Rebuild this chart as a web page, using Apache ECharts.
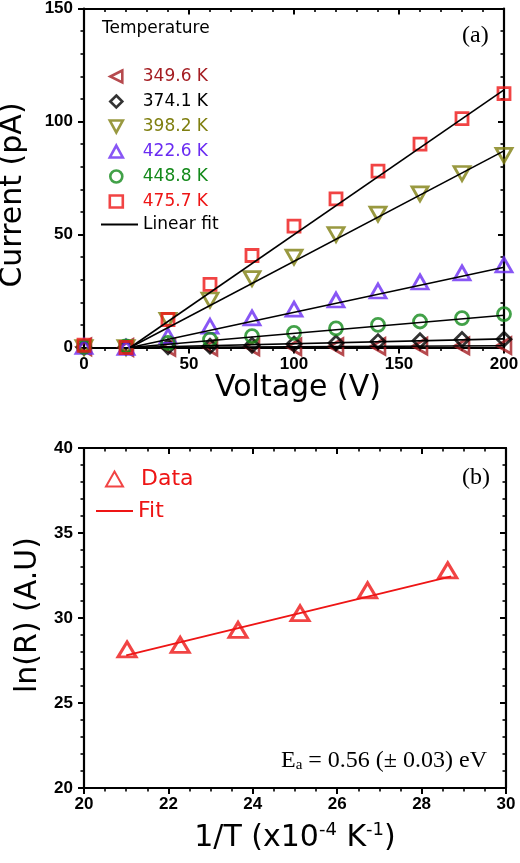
<!DOCTYPE html>
<html>
<head>
<meta charset="utf-8">
<script src="https://cdn.jsdelivr.net/npm/echarts@6.0.0/dist/echarts.min.js"></script>
<style>
html,body{margin:0;padding:0;background:#fff;}
#chart{width:520px;height:863px;}
</style>
</head>
<body>
<div id="chart"></div>
<script>
// ---------- Data: panel (a) ----------
const voltage = [0, 20, 40, 60, 80, 100, 120, 140, 160, 180, 200];
const temps = ['349.6 K', '374.1 K', '398.2 K', '422.6 K', '448.8 K', '475.7 K'];
const cur349 = [0.3, 0.0, 0.1, 0.2, 0.3, 0.3, 0.4, 0.5, 0.6, 0.7, 0.8];
const cur374 = [0.0, 0.1, 0.3, 0.6, 1.0, 1.5, 2.0, 2.6, 3.0, 3.5, 3.7];
const cur398 = [0.0, 0.0, 12.0, 21.0, 30.5, 40.0, 50.0, 59.0, 68.0, 77.0, 85.0];
const cur422 = [0.5, 0.0, 5.0, 9.4, 13.1, 17.0, 21.0, 25.0, 29.0, 33.0, 36.5];
const cur448 = [0.3, 0.5, 2.0, 3.5, 5.0, 6.5, 8.5, 10.0, 11.5, 13.0, 14.8];
const cur475 = [1.0, 0.0, 12.4, 27.9, 40.7, 53.7, 65.8, 78.0, 90.0, 101.3, 112.3];
// linear fits: start and end voltage, current at those voltages
const fitVoltage = [22, 200];
const fit349 = [0, 0.8];
const fit374 = [0, 3.8];
const fit398 = [0, 87.0];
const fit422 = [0, 35.5];
const fit448 = [0, 14.3];
const fit475 = [0, 114.0];

// ---------- Data: panel (b) ----------
const invT = [21.02, 22.28, 23.65, 25.12, 26.72, 28.62];
const lnR = [28.15, 28.42, 29.30, 30.28, 31.63, 32.80];
const fitInvT = [21.0, 28.7];
const fitLnR = [27.8, 32.45];

// ---------- Styles ----------
const colors = ['#a41d22', '#000000', '#7f7f10', '#6a2cf2', '#13891a', '#ee1515'];
const symbols = ['triangle', 'diamond', 'triangle', 'triangle', 'circle', 'rect'];
const rotates = [90, 0, 180, 0, 0, 0];
const legendIcons = ['path://M12,0 L0,6 L12,12 Z', 'path://M6,0 L12,6 L6,12 L0,6 Z', 'path://M0,0 L12,0 L6,11 Z',
  'path://M6,0 L12,11 L0,11 Z', 'circle', 'rect'];
const sizes = [[16, 14], [14, 14], [16, 14], [16, 14], [13, 13], [12, 12]];
const curData = [cur349, cur374, cur398, cur422, cur448, cur475];
const fitData = [fit349, fit374, fit398, fit422, fit448, fit475];

const zip = (xs, ys) => xs.map((x, i) => [x, ys[i]]);

const labelFont = {fontFamily: 'Liberation Sans, Arial, sans-serif', fontWeight: 'bold', fontSize: 17, color: '#000'};
const nameFont = {fontFamily: 'DejaVu Sans, sans-serif', fontSize: 30, color: '#000'};
const serif = 'Liberation Serif, Times New Roman, serif';

function minor(n) {
  return {show: true, splitNumber: n, length: 3.5, lineStyle: {color: '#000', width: 1.6}};
}
function mainAxis(grid, opts) {
  return Object.assign({
    gridIndex: grid, type: 'value',
    axisLine: {show: true, onZero: false, lineStyle: {color: '#000', width: 2.2}},
    axisTick: {show: true, inside: false, length: 6, lineStyle: {color: '#000', width: 2}},
    axisLabel: Object.assign({show: true}, labelFont),
    splitLine: {show: false}, minorSplitLine: {show: false},
    nameLocation: 'middle', nameTextStyle: Object.assign({}, nameFont)
  }, opts);
}
function mirrorAxis(grid, opts) {
  return Object.assign({
    gridIndex: grid, type: 'value',
    axisLine: {show: true, onZero: false, lineStyle: {color: '#000', width: 2.2}},
    axisTick: {show: true, inside: true, length: 6, lineStyle: {color: '#000', width: 2}},
    axisLabel: {show: false},
    splitLine: {show: false}, minorSplitLine: {show: false}
  }, opts);
}

const series = [];
temps.forEach((t, i) => {
  series.push({
    name: t, type: 'scatter', xAxisIndex: 0, yAxisIndex: 0,
    data: zip(voltage, curData[i]),
    symbol: symbols[i], symbolSize: sizes[i], symbolRotate: rotates[i],
    itemStyle: {color: 'rgba(255,255,255,0)', borderColor: colors[i], borderWidth: 2.8},
    z: 3
  });
});
temps.forEach((t, i) => {
  series.push({
    name: 'Linear fit', type: 'line', xAxisIndex: 0, yAxisIndex: 0,
    data: zip(fitVoltage, fitData[i]),
    symbol: 'none', lineStyle: {color: '#000', width: 1.6}, itemStyle: {color: '#000'},
    z: 4, silent: true
  });
});
series.push({
  name: 'Data', type: 'scatter', xAxisIndex: 2, yAxisIndex: 2,
  data: zip(invT, lnR),
  symbol: 'triangle', symbolSize: [18, 15],
  itemStyle: {color: 'rgba(255,255,255,0)', borderColor: '#ee1515', borderWidth: 3},
  z: 3
});
series.push({
  name: 'Fit', type: 'line', xAxisIndex: 2, yAxisIndex: 2,
  data: zip(fitInvT, fitLnR),
  symbol: 'none', lineStyle: {color: '#ee1515', width: 2}, itemStyle: {color: '#ee1515'},
  z: 4
});

const hiddenSym = {color: 'rgba(0,0,0,0)', borderColor: 'rgba(0,0,0,0)', borderWidth: 0, opacity: 0};

const option = {
  animation: false,
  backgroundColor: '#fff',
  grid: [
    {left: 84, top: 8.5, width: 420, height: 339, outerBoundsMode: 'none', containLabel: false},
    {left: 84, top: 448, width: 422, height: 340, outerBoundsMode: 'none', containLabel: false}
  ],
  xAxis: [
    mainAxis(0, {min: 0, max: 200, interval: 50, position: 'bottom', minorTick: minor(5),
      axisLabel: Object.assign({margin: 8}, labelFont), name: 'Voltage (V)', nameGap: 17,
      nameTextStyle: Object.assign({}, nameFont, {padding: [0, 0, 0, 8]})}),
    mirrorAxis(0, {min: 0, max: 200, interval: 50, position: 'top', minorTick: minor(5)}),
    mainAxis(1, {min: 20, max: 30, interval: 2, position: 'bottom', minorTick: minor(4),
      axisLabel: Object.assign({margin: 8}, labelFont),
      name: '1/T (x10{sup|-4} K{sup|-1})', nameGap: 33,
      nameTextStyle: Object.assign({}, nameFont, {rich: {sup: {fontFamily: 'DejaVu Sans, sans-serif', fontSize: 18, color: '#000', verticalAlign: 'top', padding: [0, 0, 16, 0]}}})}),
    mirrorAxis(1, {min: 20, max: 30, interval: 2, position: 'top', minorTick: minor(4)})
  ],
  yAxis: [
    mainAxis(0, {min: 0, max: 150, interval: 50, position: 'left', minorTick: minor(5),
      axisLabel: Object.assign({margin: 11}, labelFont), name: 'Current (pA)', nameGap: 56,
      nameTextStyle: Object.assign({}, nameFont, {padding: [0, 34, 0, 0]})}),
    mirrorAxis(0, {min: 0, max: 150, interval: 50, position: 'right', minorTick: minor(5)}),
    mainAxis(1, {min: 20, max: 40, interval: 5, position: 'left', minorTick: minor(5),
      axisLabel: Object.assign({margin: 11}, labelFont), name: 'ln(R) (A.U)', nameGap: 40,
      nameTextStyle: Object.assign({}, nameFont, {padding: [0, 0, 0, 6]})}),
    mirrorAxis(1, {min: 20, max: 40, interval: 5, position: 'right', minorTick: minor(5)})
  ],
  title: [
    {text: 'Temperature', left: 102, top: 20, padding: 0, textStyle: {fontFamily: 'DejaVu Sans, sans-serif', fontSize: 17, fontWeight: 'normal', color: '#000'}},
    {text: '(a)', left: 462, top: 24, padding: 0, textStyle: {fontFamily: serif, fontSize: 24, fontWeight: 'normal', color: '#000'}},
    {text: '(b)', left: 462, top: 466, padding: 0, textStyle: {fontFamily: serif, fontSize: 24, fontWeight: 'normal', color: '#000'}},
    {text: '{e|E}{s|a}{e| = 0.56 (± 0.03) eV}', right: 33, top: 748, padding: 0,
      textStyle: {fontWeight: 'normal', rich: {
        e: {fontFamily: serif, fontSize: 24, fontWeight: 'normal', color: '#000'},
        s: {fontFamily: serif, fontSize: 15, fontWeight: 'normal', color: '#000', verticalAlign: 'bottom', padding: [10, 0, 0, 0]}
      }}}
  ],
  legend: [
    {
      orient: 'vertical', left: 108.5, top: 68, itemWidth: 13, itemHeight: 12, itemGap: 8,
      padding: 0, selectedMode: false, symbolKeepAspect: true,
      itemStyle: {borderWidth: 2.6},
      data: temps.map((t, i) => ({name: t, icon: legendIcons[i], textStyle: {color: colors[i]}})),
      textStyle: {fontFamily: 'DejaVu Sans, sans-serif', fontSize: 17, padding: [0, 0, 0, 15]}
    },
    {
      orient: 'vertical', left: 100, top: 216, itemWidth: 37, itemHeight: 12,
      padding: 0, selectedMode: false,
      data: [{name: 'Linear fit', itemStyle: hiddenSym, textStyle: {color: '#000'}}],
      textStyle: {fontFamily: 'DejaVu Sans, sans-serif', fontSize: 17}
    },
    {
      orient: 'vertical', left: 105, top: 468, itemWidth: 17, itemHeight: 15,
      padding: 0, selectedMode: false, symbolKeepAspect: true,
      data: [{name: 'Data'}],
      textStyle: {fontFamily: 'DejaVu Sans, sans-serif', fontSize: 22, color: '#ee1515', padding: [0, 0, 0, 13]}
    },
    {
      orient: 'vertical', left: 95, top: 500, itemWidth: 37, itemHeight: 15,
      padding: 0, selectedMode: false,
      data: [{name: 'Fit', itemStyle: hiddenSym}],
      textStyle: {fontFamily: 'DejaVu Sans, sans-serif', fontSize: 22, color: '#ee1515'}
    }
  ],
  series: series
};

const chart = echarts.init(document.getElementById('chart'), null, {renderer: 'canvas'});
chart.setOption(option);
</script>
</body>
</html>
